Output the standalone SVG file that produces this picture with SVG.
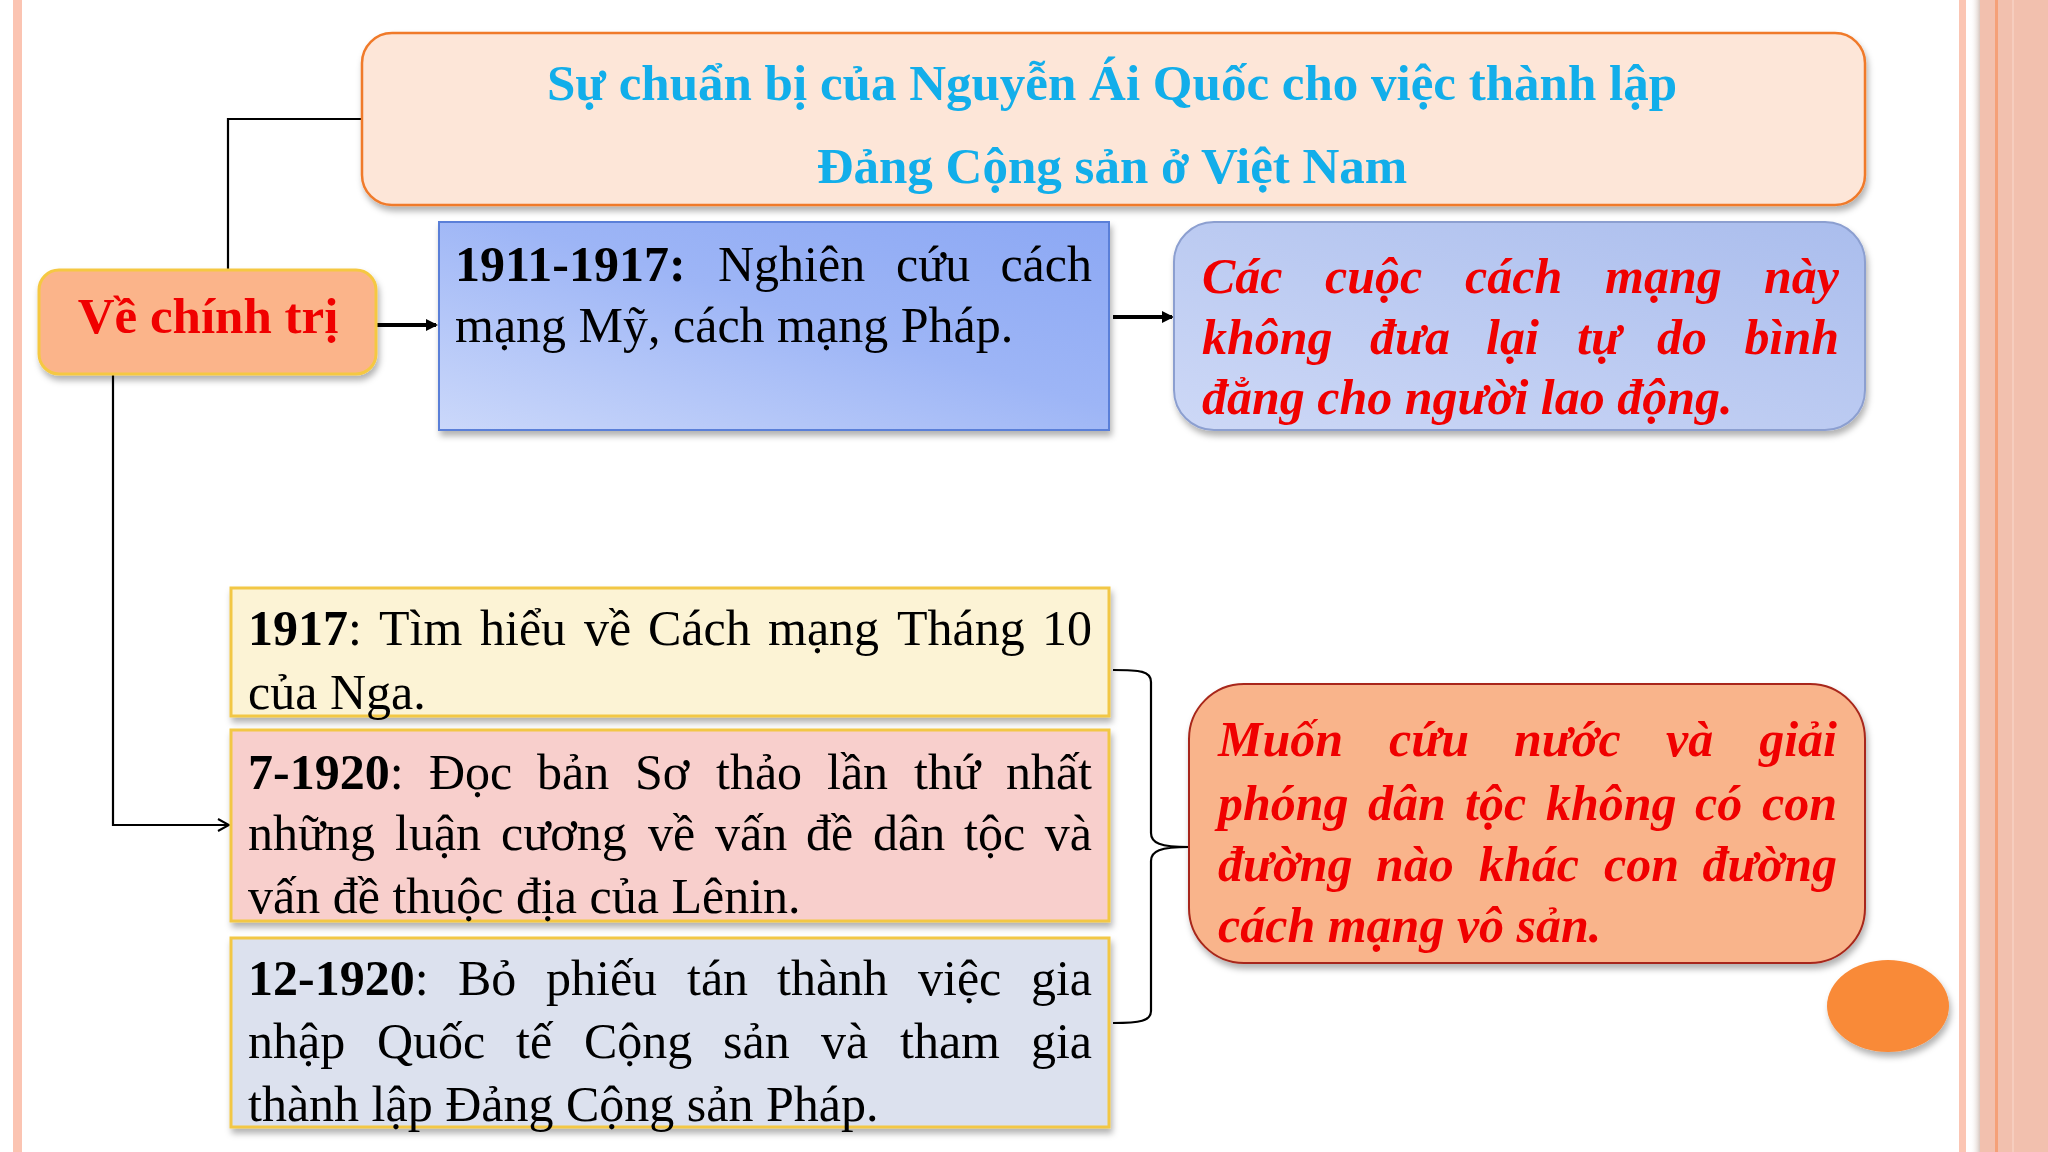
<svg xmlns="http://www.w3.org/2000/svg" width="2048" height="1152" viewBox="0 0 2048 1152">
<defs>
<style>
.t{font-family:"Liberation Serif","Times New Roman",serif;font-size:50px;fill:#000}
.b{font-weight:bold}
.ri{font-family:"Liberation Serif","Times New Roman",serif;font-size:50px;font-weight:bold;font-style:italic;fill:#F00000}
.title{font-family:"Liberation Serif","Times New Roman",serif;font-size:51px;font-weight:bold;fill:#12AEEA}
.conn{fill:none;stroke:#000;stroke-width:2.2}
.thick{fill:none;stroke:#000;stroke-width:4}
.ybox{stroke:#F2C744;stroke-width:3}
.e{text-anchor:end}
</style>
<filter id="sh" x="-10%" y="-10%" width="120%" height="130%">
<feDropShadow dx="2" dy="5" stdDeviation="3" flood-color="#000" flood-opacity="0.3"/>
</filter>
<linearGradient id="gBlue" x1="0" y1="1" x2="1" y2="0">
<stop offset="0" stop-color="#CBD8FA"/>
<stop offset="0.55" stop-color="#9DB5F6"/>
<stop offset="1" stop-color="#8CA8F4"/>
</linearGradient>
<linearGradient id="gBlue2" x1="0" y1="1" x2="1" y2="0">
<stop offset="0" stop-color="#CDD8F6"/>
<stop offset="1" stop-color="#AABDED"/>
</linearGradient>
<linearGradient id="gShadow" x1="0" y1="0" x2="1" y2="0">
<stop offset="0" stop-color="#FFFFFF" stop-opacity="0"/>
<stop offset="1" stop-color="#D8C8C0"/>
</linearGradient>
<marker id="ahFill" markerWidth="12" markerHeight="12" refX="10" refY="6" orient="auto" markerUnits="userSpaceOnUse">
<path d="M0,0 L12,6 L0,12 Z" fill="#000"/>
</marker>
<marker id="ahOpen" markerWidth="14" markerHeight="14" refX="12" refY="7" orient="auto" markerUnits="userSpaceOnUse">
<path d="M1,1 L12,7 L1,13" fill="none" stroke="#000" stroke-width="2"/>
</marker>
</defs>

<rect x="0" y="0" width="2048" height="1152" fill="#FFFFFF"/>

<g id="decor">
<rect x="13" y="0" width="9" height="1152" fill="#FBC4B2"/>
<rect x="1959" y="0" width="7" height="1152" fill="#FBC5B3"/>
<rect x="1970" y="0" width="10" height="1152" fill="url(#gShadow)"/>
<rect x="1980" y="0" width="68" height="1152" fill="#F2C0AE"/>
<rect x="1995" y="0" width="3" height="1152" fill="#F5A078"/>
<rect x="2012" y="0" width="2" height="1152" fill="#F6CDBE"/>
</g>

<g id="connectors">
<path class="conn" d="M228,270 V119 H362"/>
<path class="thick" d="M376,325 H436" marker-end="url(#ahFill)"/>
<path class="thick" d="M1113,317 H1172" marker-end="url(#ahFill)"/>
<path class="conn" d="M113,374 V825 H229" marker-end="url(#ahOpen)"/>
<path class="conn" stroke-width="2.5" d="M1113,670 C1140,670 1151,671 1151,682 V833 C1151,843 1160,847 1189,847 C1160,847 1151,851 1151,861 V1011 C1151,1021 1140,1023 1113,1023"/>
</g>

<g id="title">
<rect x="362" y="33" width="1503" height="172" rx="30" fill="#FDE6D8" stroke="#F07A2A" stroke-width="2.5" filter="url(#sh)"/>
<text class="title" x="1112" y="100" text-anchor="middle">Sự chuẩn bị của Nguyễn Ái Quốc cho việc thành lập</text>
<text class="title" x="1112" y="183" text-anchor="middle">Đảng Cộng sản ở Việt Nam</text>
</g>

<g id="ve-chinh-tri">
<rect x="39" y="270" width="337" height="104" rx="20" fill="#FBB48A" stroke="#F5C842" stroke-width="3" filter="url(#sh)"/>
<text x="208" y="333" text-anchor="middle" style="font-family:'Liberation Serif','Times New Roman',serif;font-size:51px;font-weight:bold;fill:#F00000">Về chính trị</text>
</g>

<g id="box-1911">
<rect x="439" y="222" width="670" height="208" fill="url(#gBlue)" stroke="#5A7FD8" stroke-width="2" filter="url(#sh)"/>
<text class="t" y="281"><tspan class="b" x="455">1911-1917:</tspan><tspan x="718">Nghiên</tspan><tspan x="896">cứu</tspan></text>
<text class="t e" x="1092" y="281">cách</text>
<text class="t" x="455" y="342">mạng Mỹ, cách mạng Pháp.</text>
</g>

<g id="box-ketluan1">
<rect x="1174" y="222" width="691" height="208" rx="40" fill="url(#gBlue2)" stroke="#8C9FD0" stroke-width="2" filter="url(#sh)"/>
<text class="ri" y="293"><tspan x="1202">Các</tspan><tspan x="1325">cuộc</tspan><tspan x="1465">cách</tspan><tspan x="1605">mạng</tspan></text>
<text class="ri e" x="1839" y="293">này</text>
<text class="ri" y="354"><tspan x="1202">không</tspan><tspan x="1370">đưa</tspan><tspan x="1486">lại</tspan><tspan x="1577">tự</tspan><tspan x="1657">do</tspan></text>
<text class="ri e" x="1839" y="354">bình</text>
<text class="ri" x="1202" y="414">đẳng cho người lao động.</text>
</g>

<g id="box-1917">
<rect class="ybox" x="231" y="588" width="878" height="128" fill="#FCF3D5" filter="url(#sh)"/>
<text class="t" y="645"><tspan class="b" x="248">1917</tspan><tspan>:</tspan><tspan x="379">Tìm</tspan><tspan x="480">hiểu</tspan><tspan x="584">về</tspan><tspan x="648">Cách</tspan><tspan x="768">mạng</tspan><tspan x="897">Tháng</tspan></text>
<text class="t e" x="1092" y="645">10</text>
<text class="t" x="248" y="709">của Nga.</text>
</g>

<g id="box-7-1920">
<rect class="ybox" x="231" y="730" width="878" height="191" fill="#F8CFCC" filter="url(#sh)"/>
<text class="t" y="789"><tspan class="b" x="248">7-1920</tspan><tspan>:</tspan><tspan x="429">Đọc</tspan><tspan x="537">bản</tspan><tspan x="635">Sơ</tspan><tspan x="716">thảo</tspan><tspan x="827">lần</tspan><tspan x="914">thứ</tspan></text>
<text class="t e" x="1092" y="789">nhất</text>
<text class="t" y="850"><tspan x="248">những</tspan><tspan x="395">luận</tspan><tspan x="501">cương</tspan><tspan x="648">về</tspan><tspan x="715">vấn</tspan><tspan x="806">đề</tspan><tspan x="873">dân</tspan><tspan x="964">tộc</tspan></text>
<text class="t e" x="1092" y="850">và</text>
<text class="t" x="248" y="913">vấn đề thuộc địa của Lênin.</text>
</g>

<g id="box-12-1920">
<rect class="ybox" x="231" y="938" width="878" height="189" fill="#DCE1EE" filter="url(#sh)"/>
<text class="t" y="995"><tspan class="b" x="248">12-1920</tspan><tspan>:</tspan><tspan x="458">Bỏ</tspan><tspan x="546">phiếu</tspan><tspan x="687">tán</tspan><tspan x="777">thành</tspan><tspan x="918">việc</tspan></text>
<text class="t e" x="1092" y="995">gia</text>
<text class="t" y="1058"><tspan x="248">nhập</tspan><tspan x="377">Quốc</tspan><tspan x="516">tế</tspan><tspan x="584">Cộng</tspan><tspan x="723">sản</tspan><tspan x="821">và</tspan><tspan x="900">tham</tspan></text>
<text class="t e" x="1092" y="1058">gia</text>
<text class="t" x="248" y="1121">thành lập Đảng Cộng sản Pháp.</text>
</g>

<g id="box-ketluan2">
<rect x="1189" y="684" width="676" height="279" rx="55" fill="#F9B48B" stroke="#A8281A" stroke-width="2" filter="url(#sh)"/>
<text class="ri" y="756"><tspan x="1218">Muốn</tspan><tspan x="1389">cứu</tspan><tspan x="1514">nước</tspan><tspan x="1666">và</tspan></text>
<text class="ri e" x="1837" y="756">giải</text>
<text class="ri" y="820"><tspan x="1218">phóng</tspan><tspan x="1368">dân</tspan><tspan x="1465">tộc</tspan><tspan x="1546">không</tspan><tspan x="1695">có</tspan></text>
<text class="ri e" x="1837" y="820">con</text>
<text class="ri" y="881"><tspan x="1218">đường</tspan><tspan x="1376">nào</tspan><tspan x="1479">khác</tspan><tspan x="1604">con</tspan></text>
<text class="ri e" x="1837" y="881">đường</text>
<text class="ri" x="1218" y="942">cách mạng vô sản.</text>
</g>

<g id="ellipse">
<ellipse cx="1888" cy="1006" rx="61" ry="46" fill="#F98A38" filter="url(#sh)"/>
</g>
</svg>
